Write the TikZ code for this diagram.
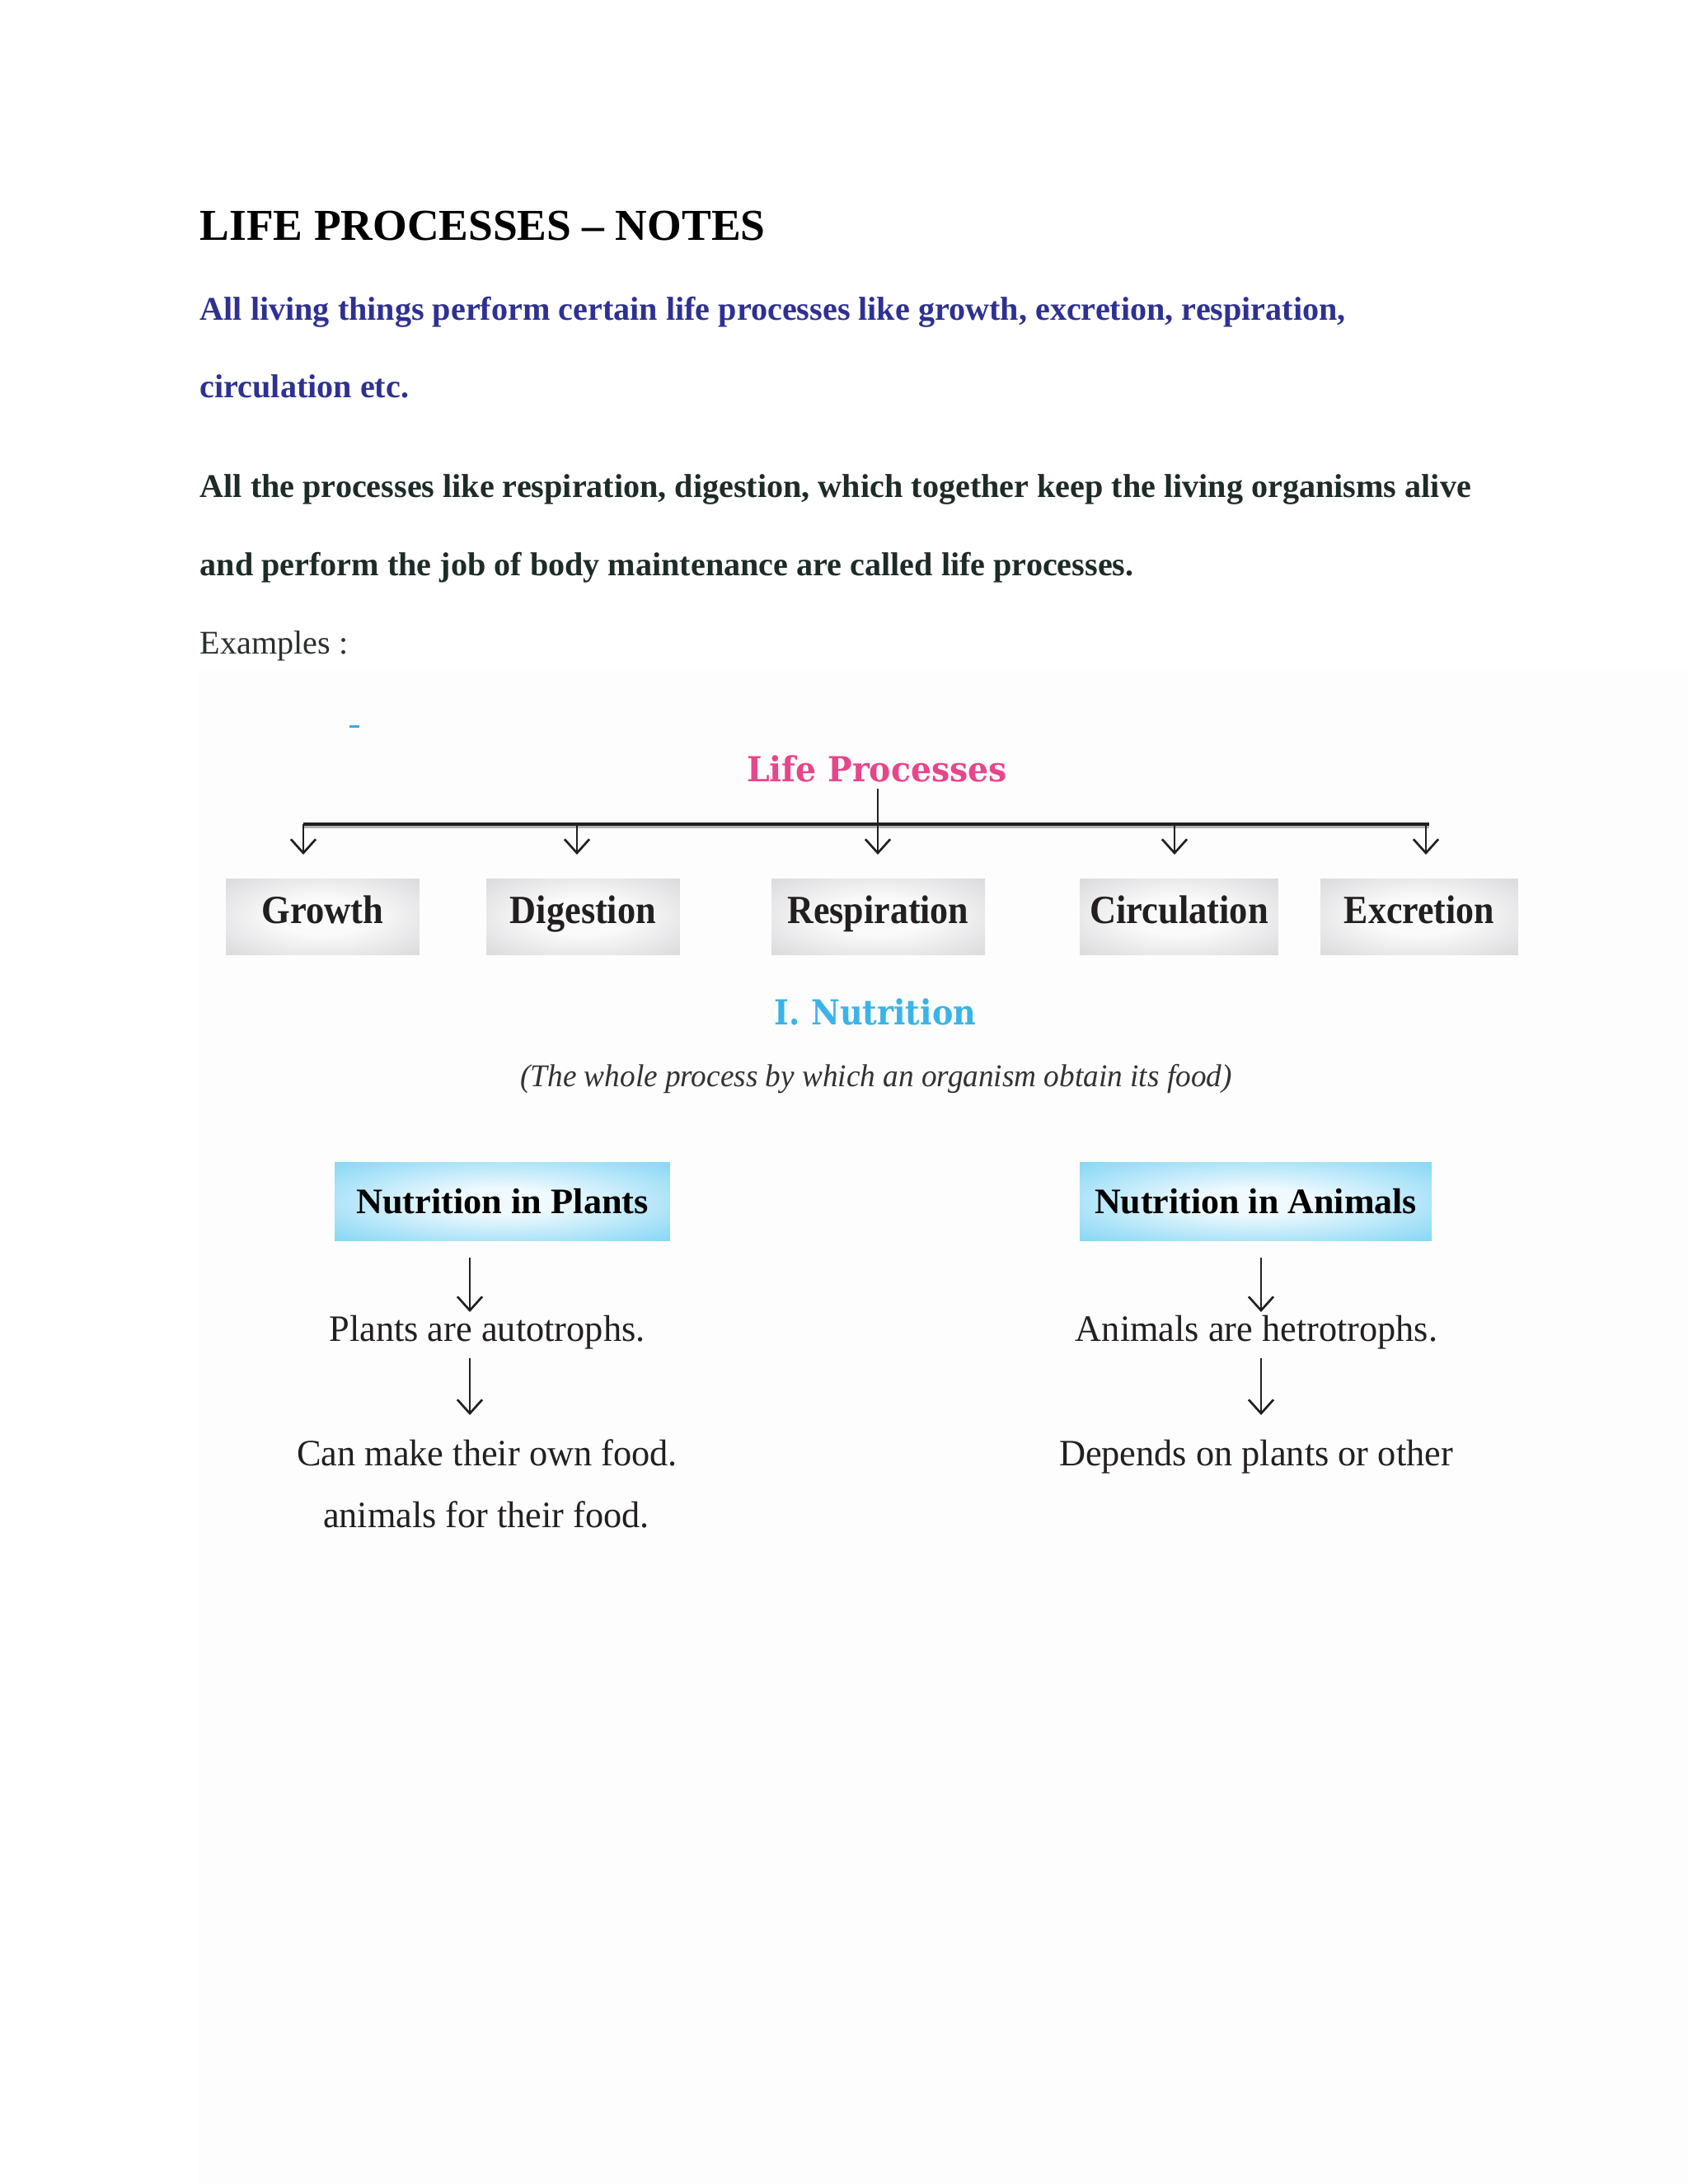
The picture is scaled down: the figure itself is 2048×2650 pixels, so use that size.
\documentclass[tikz,border=0pt]{standalone}
\usepackage{fontspec}
\setmainfont{Liberation Serif}
\newfontfamily\slabfont{DejaVu Serif}
\usetikzlibrary{arrows.meta}
\definecolor{parablue}{RGB}{46,49,146}
\definecolor{paradark}{RGB}{30,43,40}
\definecolor{exdark}{RGB}{42,48,46}
\definecolor{ink}{RGB}{35,31,32}
\definecolor{lppink}{RGB}{232,69,139}
\definecolor{nutblue}{RGB}{58,180,232}
\definecolor{subgray}{RGB}{50,50,52}
\definecolor{bgtint}{RGB}{253,253,254}
\definecolor{grayin}{RGB}{250,250,251}
\definecolor{grayout}{RGB}{198,199,201}
\definecolor{bluein}{RGB}{240,250,254}
\definecolor{blueout}{RGB}{86,198,241}
\definecolor{dashblue}{RGB}{70,160,225}
\pgfdeclareradialshading{grayglow}{\pgfpoint{0bp}{0bp}}{color(0bp)=(grayin); color(12bp)=(grayin); color(50bp)=(grayout); color(60bp)=(grayout)}
\pgfdeclareradialshading{blueglow}{\pgfpoint{0bp}{0bp}}{color(0bp)=(bluein); color(8bp)=(bluein); color(48bp)=(blueout); color(60bp)=(blueout)}
\newcommand\fitto[2]{\resizebox{#1}{\height}{#2}}
\tikzset{
  pagetext/.style={anchor=base west, inner sep=0pt},
  ctext/.style={anchor=base, inner sep=0pt, text=ink, font=\fontsize{13.5}{16}\selectfont},
  grybox/.style={shading=grayglow, minimum height=27.5pt, inner sep=0pt,
    text height=10pt, text depth=5.2pt, text=ink, font=\fontsize{14.5}{16}\selectfont\bfseries},
  blubox/.style={shading=blueglow, minimum height=28.4pt, inner sep=0pt,
    text height=10pt, text depth=1.34pt, text=black, font=\fontsize{13}{15}\selectfont\bfseries},
  tiparrow/.style={-{Straight Barb[length=5pt,width=9pt]}, line width=0.8pt, draw=ink},
  barline/.style={line width=1.1pt, draw=ink}
}
\begin{document}
\begin{tikzpicture}[x=0.29883pt, y=-0.29883pt]
\useasboundingbox (0,0) rectangle (2048,2650);
\fill[white] (0,0) rectangle (2048,2650);
\fill[bgtint] (240,813) rectangle (2048,2650);

% page text
\node[pagetext, font=\fontsize{16}{19}\selectfont\bfseries, text=black] (title) at (242,291) {LIFE PROCESSES – NOTES};
\node[pagetext, font=\fontsize{12}{14}\selectfont\bfseries, text=parablue] (p1a) at (242,388) {All living things perform certain life processes like growth, excretion, respiration,};
\node[pagetext, font=\fontsize{12}{14}\selectfont\bfseries, text=parablue] (p1b) at (242,482) {circulation etc.};
\node[pagetext, font=\fontsize{12}{14}\selectfont\bfseries, text=paradark] (p2a) at (242,603) {All the processes like respiration, digestion, which together keep the living organisms alive};
\node[pagetext, font=\fontsize{12}{14}\selectfont\bfseries, text=paradark] (p2b) at (242,698) {and perform the job of body maintenance are called life processes.};
\node[pagetext, font=\fontsize{12}{14}\selectfont, text=exdark] (ex) at (242,793) {Examples :};

% tiny blue mark
\fill[dashblue] (424,879.5) rectangle (436,882.5);

% Life processes tree
\node[anchor=base, inner sep=0pt, text=lppink, font=\slabfont\bfseries\fontsize{12.5}{14}\selectfont] (lp) at (1064,948) {\fitto{94.4pt}{Life Processes}};
\coordinate (lptop) at (1065,957);
\coordinate (barl) at (368,1000);
\coordinate (barr) at (1734,1000);
\draw[line width=0.8pt, draw=gray!60] (368,1003.5) -- (1734,1003.5);
\draw[barline] (barl) -- (barr);

\node[grybox, minimum width=70.2pt] (growth) at (391.5,1112) {\fitto{44.2pt}{Growth}};
\node[grybox, minimum width=70.2pt] (digestion) at (707.5,1112) {\fitto{52.9pt}{Digestion}};
\node[grybox, minimum width=77.4pt] (respiration) at (1065.5,1112) {\fitto{65.7pt}{Respiration}};
\node[grybox, minimum width=72pt] (circulation) at (1430.5,1112) {\fitto{64.8pt}{Circulation}};
\node[grybox, minimum width=71.7pt] (excretion) at (1722,1112) {\fitto{54.4pt}{Excretion}};

\coordinate (s1) at (368,1000);  \coordinate (t1) at (368,1037);
\coordinate (s2) at (700,1000);  \coordinate (t2) at (700,1037);
\coordinate (t3) at (1065,1037);
\coordinate (s4) at (1425,1000); \coordinate (t4) at (1425,1037);
\coordinate (s5) at (1730,1000); \coordinate (t5) at (1730,1037);
\draw[tiparrow] (s1) -- (t1);
\draw[tiparrow] (s2) -- (t2);
\draw[tiparrow] (lptop) -- (t3);
\draw[tiparrow] (s4) -- (t4);
\draw[tiparrow] (s5) -- (t5);

% Nutrition
\node[anchor=base, inner sep=0pt, text=nutblue, font=\slabfont\bfseries\fontsize{12.5}{14}\selectfont] (nut) at (1062,1243) {\fitto{73pt}{I. Nutrition}};
\node[anchor=base, inner sep=0pt, text=subgray, font=\fontsize{11.5}{13}\selectfont\itshape] (nutsub) at (1063,1318) {\fitto{258pt}{(The whole process by which an organism obtain its food)}};

\node[blubox, minimum width=121.6pt] (plants) at (609.5,1457.5) {\fitto{106pt}{Nutrition in Plants}};
\node[blubox, minimum width=127.6pt] (animals) at (1523.5,1457.5) {\fitto{116.8pt}{Nutrition in Animals}};

\node[ctext] (pl1) at (591,1627) {\fitto{114.5pt}{Plants are autotrophs.}};
\node[ctext] (pl2) at (591,1778) {\fitto{138pt}{Can make their own food.}};
\node[ctext] (pl3) at (590,1853) {\fitto{118.3pt}{animals for their food.}};
\node[ctext] (an1) at (1524.5,1627) {\fitto{131.2pt}{Animals are hetrotrophs.}};
\node[ctext] (an2) at (1524,1778) {\fitto{142.8pt}{Depends on plants or other}};

\coordinate (pa1s) at (570,1526); \coordinate (pa1e) at (570,1592);
\coordinate (pa2s) at (570,1648); \coordinate (pa2e) at (570,1717);
\coordinate (aa1s) at (1530,1526); \coordinate (aa1e) at (1530,1592);
\coordinate (aa2s) at (1530,1648); \coordinate (aa2e) at (1530,1717);
\draw[tiparrow] (pa1s) -- (pa1e);
\draw[tiparrow] (pa2s) -- (pa2e);
\draw[tiparrow] (aa1s) -- (aa1e);
\draw[tiparrow] (aa2s) -- (aa2e);
\end{tikzpicture}
\end{document}
